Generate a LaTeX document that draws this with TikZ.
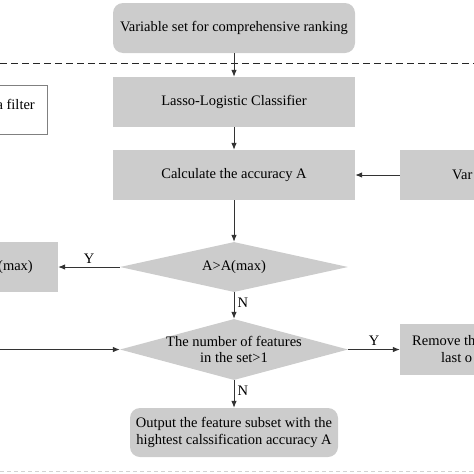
\documentclass[tikz,border=0pt]{standalone}
\usepackage{fontspec}
\setmainfont{Liberation Serif}
\usetikzlibrary{arrows.meta,shapes.geometric}

\begin{document}
\begin{tikzpicture}[x=1pt,y=-1pt,font=\fontsize{14.5}{16.5}\selectfont]
\tikzset{edge/.style = {->,>={Latex[length=7pt,width=5.5pt]},draw=black!80,line width=0.8pt}}
\tikzset{box/.style = {fill=gray!40,inner sep=0pt}}
\tikzset{dia/.style = {diamond,fill=gray!40,inner sep=0pt}}
\useasboundingbox (0,0) rectangle (474,474);
\clip (0,0) rectangle (474,474);

\node[box,rounded corners=10pt,minimum width=242,minimum height=50] (vs) at (234,28) {Variable set for comprehensive ranking};
\draw[black!85,line width=0.7pt,dash pattern=on 7pt off 4pt] (0,63) -- (474,63);
\node[box,minimum width=242,minimum height=50] (lasso) at (234,102) {Lasso-Logistic Classifier};
\node[box,minimum width=242,minimum height=50] (acc) at (234,175) {Calculate the accuracy A};
\node[box,minimum width=100,minimum height=50] (var) at (450,175) {};
\node[anchor=west,inner sep=0pt] (vart) at (452,175) {Var};

\node[draw=gray,fill=white,minimum width=52,minimum height=49] (filt) at (21,109.5) {};
\node[anchor=east,inner sep=0pt] (filtt) at (35,104) {a filter};

\node[dia,minimum width=228,minimum height=50] (d1) at (234,267) {};
\node (d1t) at (d1) {A>A(max)};
\node[box,minimum width=68,minimum height=50] (amax) at (24,267) {};
\node[anchor=east,inner sep=0pt] (amaxt) at (33,267) {(max)};

\node[dia,minimum width=228,minimum height=61] (d2) at (234,349.5) {};
\node[align=center] (d2t) at (d2) {The number of features\\in the set>1};
\node[box,minimum width=100,minimum height=51] (rm) at (450,349.5) {};
\node[anchor=west,inner sep=0pt] (rmt1) at (412,341) {Remove th};
\node[anchor=west,inner sep=0pt] (rmt2) at (441,358) {last o};
\coordinate (in) at (-5,349.5);

\node[box,rounded corners=10pt,minimum width=208,minimum height=49,align=center] (out) at (234,432.5) {Output the feature subset with the\\hightest calssification accuracy A};
\draw[gray!35,line width=0.8pt,dash pattern=on 4pt off 3pt] (0,471) -- (474,471);

\draw[edge] (vs) to (lasso);
\draw[edge] (lasso) to (acc);
\draw[edge] (var) to (acc);
\draw[edge] (acc) to (d1);
\draw[edge] (d1) to node[above] {Y} (amax);
\draw[edge] (d1) to node[right,pos=0.4] {N} (d2);
\draw[edge] (in) to (d2);
\draw[edge] (d2) to node[above] {Y} (rm);
\draw[edge] (d2) to node[right,pos=0.4] {N} (out);
\end{tikzpicture}
\end{document}
